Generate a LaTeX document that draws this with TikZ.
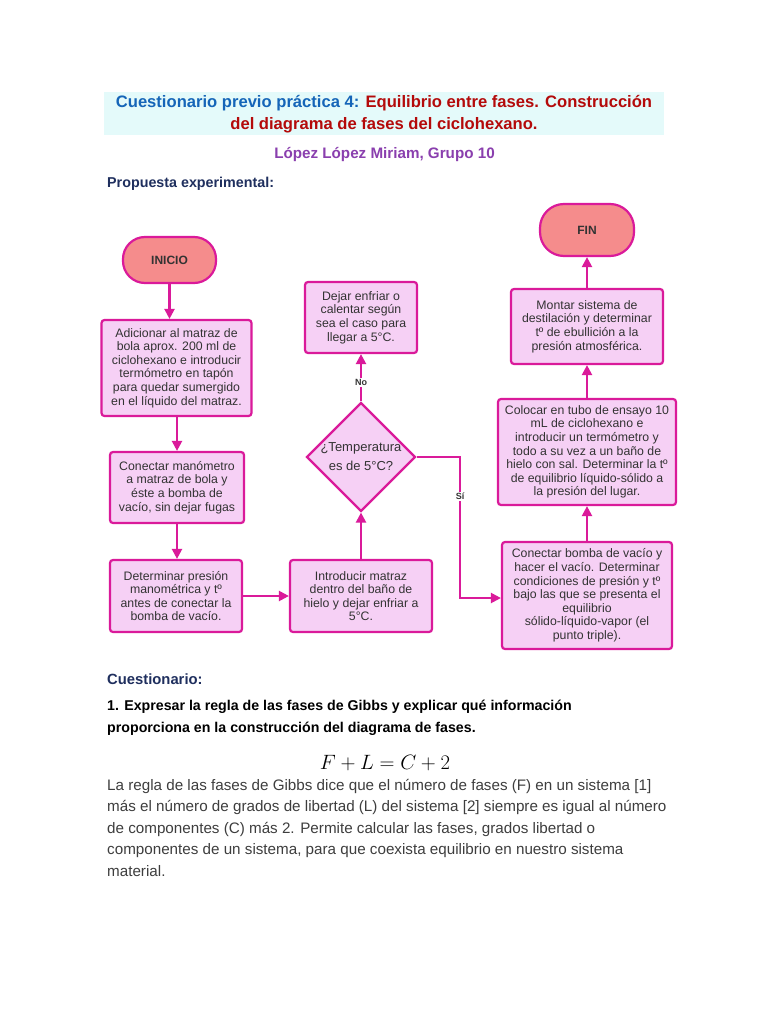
\documentclass[tikz,border=0pt]{standalone}
\usepackage{fontspec}
\setmainfont{Liberation Sans}
\usetikzlibrary{arrows.meta,shapes.geometric}
\definecolor{mag}{HTML}{DA1A9A}
\definecolor{boxfill}{HTML}{F6D0F5}
\definecolor{startfill}{HTML}{F58C8C}
\definecolor{titlebg}{HTML}{E4FAFA}
\definecolor{tblue}{HTML}{1565B8}
\definecolor{tred}{HTML}{B40A0A}
\definecolor{purp}{HTML}{8A3FAE}
\definecolor{navy}{HTML}{1F2F5E}
\definecolor{bodygray}{HTML}{3E3E3E}
\definecolor{boxtext}{HTML}{333333}
\tikzset{
  stepbox/.style={draw=mag, line width=2.2pt, fill=boxfill, rounded corners=3pt, inner sep=0pt, align=center, text=boxtext, font=\fontsize{12.3}{13.6}\selectfont},
  termbox/.style={draw=mag, line width=2.2pt, fill=startfill, rounded corners=22pt, inner sep=0pt, text=boxtext, font=\fontsize{12}{14}\selectfont\bfseries},
  decbox/.style={draw=mag, line width=2.2pt, fill=boxfill, diamond, inner sep=0pt, align=center, text=boxtext, font=\fontsize{13}{19}\selectfont},
  conn/.style={draw=mag, line width=2.2pt, -{Triangle[length=10pt,width=10pt]}},
  lbl/.style={font=\fontsize{9}{10}\selectfont\bfseries, text=boxtext, fill=white, inner sep=1pt}
}
\begin{document}
\begin{tikzpicture}[x=1pt,y=-1pt]
\useasboundingbox[fill=white] (0,0) rectangle (768,1024);
% title
\fill[titlebg] (104,92) rectangle (664,135);
\node[font=\fontsize{16.6}{22}\selectfont\bfseries, align=center] (title) at (384,114.5)
  {\textcolor{tblue}{Cuestionario previo práctica 4:} \textcolor{tred}{Equilibrio entre fases. Construcción}\\
   \textcolor{tred}{del diagrama de fases del ciclohexano.}};
\node[font=\fontsize{15.2}{16}\selectfont\bfseries, text=purp] (author) at (384.5,155) {López López Miriam, Grupo 10};
\node[font=\fontsize{14.3}{16}\selectfont\bfseries, text=navy, anchor=west, inner sep=0pt] (prop) at (107,184) {Propuesta experimental:};

% flowchart nodes
\node[termbox, minimum width=93pt, minimum height=46pt] (inicio) at (169.5,260) {INICIO};
\node[stepbox, minimum width=150pt, minimum height=96pt] (b1) at (176.5,368)
  {Adicionar al matraz de\\bola aprox. 200 ml de\\ciclohexano e introducir\\termómetro en tapón\\para quedar sumergido\\en el líquido del matraz.};
\node[stepbox, minimum width=134pt, minimum height=71pt] (b2) at (177,487.5)
  {Conectar manómetro\\a matraz de bola y\\éste a bomba de\\vacío, sin dejar fugas};
\node[stepbox, minimum width=132pt, minimum height=72pt] (b3) at (176,596)
  {Determinar presión\\manométrica y tº\\antes de conectar la\\bomba de vacío.};
\node[stepbox, minimum width=142pt, minimum height=72pt] (b4) at (361,596)
  {Introducir matraz\\dentro del baño de\\hielo y dejar enfriar a\\5°C.};
\node[decbox, minimum width=106pt, minimum height=104pt] (d) at (361,457)
  {¿Temperatura\\es de 5°C?};
\node[stepbox, minimum width=112pt, minimum height=71pt] (b5) at (361,317.5)
  {Dejar enfriar o\\calentar según\\sea el caso para\\llegar a 5°C.};
\node[stepbox, minimum width=170pt, minimum height=107pt] (b6) at (587,595.5)
  {Conectar bomba de vacío y\\hacer el vacío. Determinar\\condiciones de presión y tº\\bajo las que se presenta el\\equilibrio\\sólido-líquido-vapor (el\\punto triple).};
\node[stepbox, minimum width=178pt, minimum height=106pt] (b7) at (587,452)
  {Colocar en tubo de ensayo 10\\mL de ciclohexano e\\introducir un termómetro y\\todo a su vez a un baño de\\hielo con sal. Determinar la tº\\de equilibrio líquido-sólido a\\la presión del lugar.};
\node[stepbox, minimum width=152pt, minimum height=75pt] (b8) at (587,326.5)
  {Montar sistema de\\destilación y determinar\\tº de ebullición a la\\presión atmosférica.};
\node[termbox, minimum width=94pt, minimum height=52pt, rounded corners=24pt] (fin) at (587,230) {FIN};

% connectors
\draw[conn] (inicio.south) -- (inicio.south |- b1.north);
\draw[conn] (b2.north |- b1.south) -- (b2.north);
\draw[conn] (b2.south) -- (b2.south |- b3.north);
\draw[conn] (b3.east) -- (b4.west);
\draw[conn] (b4.north) -- (d.south);
\draw[conn] (d.north) -- node[lbl, pos=0.4] (no) {No} (b5.south);
\coordinate (c1) at (460,457);
\coordinate (c2) at (460,598);
\draw[conn] (d.east) -- (c1) -- node[lbl, pos=0.28] (si) {Sí} (c2) -- (b6.west |- c2);
\draw[conn] (b6.north) -- (b7.south);
\draw[conn] (b7.north) -- (b8.south);
\draw[conn] (b8.north) -- (fin.south);

% lower text
\node[font=\fontsize{14.8}{16}\selectfont\bfseries, text=navy, anchor=west, inner sep=0pt] (cuest) at (107,679) {Cuestionario:};
\node[font=\fontsize{14.2}{21.5}\selectfont\bfseries, anchor=north west, align=left, inner sep=0pt] (q1) at (107,700)
  {1. Expresar la regla de las fases de Gibbs y explicar qué información\\proporciona en la construcción del diagrama de fases.};
\node[font=\fontsize{20}{24}\selectfont] (eq) at (385,763) {$F+L=C+2$};
\node[font=\fontsize{15.2}{21.5}\selectfont, text=bodygray, anchor=north west, align=left, inner sep=0pt] (par) at (107,779)
  {La regla de las fases de Gibbs dice que el número de fases (F) en un sistema [1]\\
   más el número de grados de libertad (L) del sistema [2] siempre es igual al número\\
   de componentes (C) más 2. Permite calcular las fases, grados libertad o\\
   componentes de un sistema, para que coexista equilibrio en nuestro sistema\\
   material.};
\end{tikzpicture}
\end{document}
